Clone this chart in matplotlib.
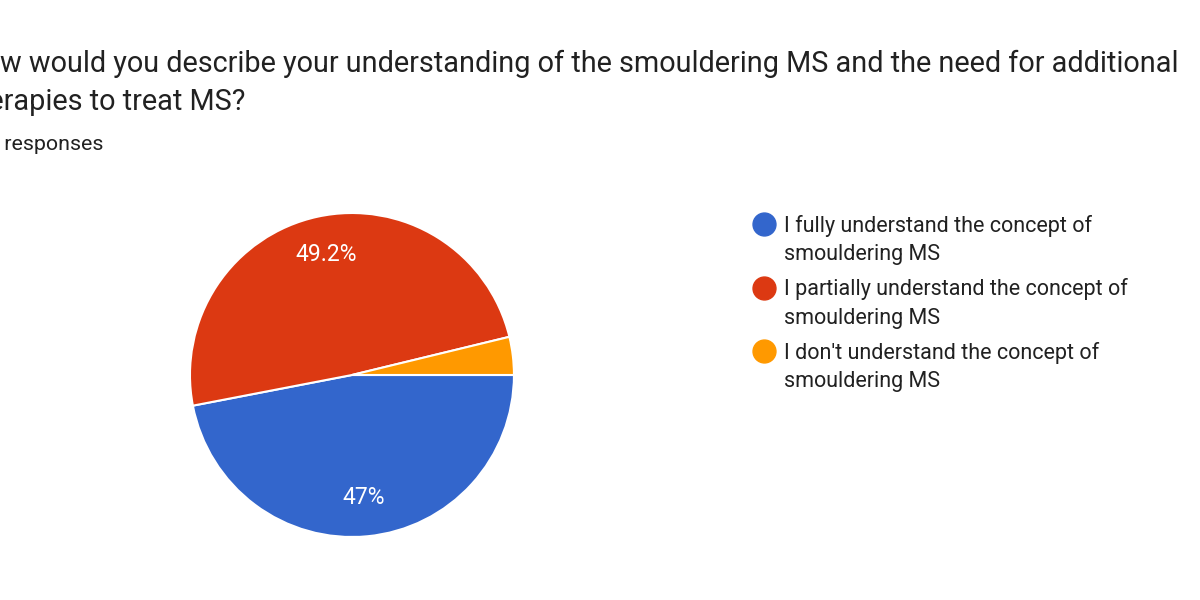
import matplotlib.pyplot as plt
from matplotlib.lines import Line2D

plt.rcParams['font.family'] = ['Roboto', 'DejaVu Sans']

title = "How would you describe your understanding of the smouldering MS and the need for additional\ntherapies to treat MS?"
subtitle = "132 responses"
labels = ["I fully understand the concept of\nsmouldering MS",
          "I partially understand the concept of\nsmouldering MS",
          "I don't understand the concept of\nsmouldering MS"]
counts = [62, 65, 5]
colors = ["#3366cc", "#dc3912", "#ff9900"]


def pct_label(p):
    if p < 5:
        return ""
    s = "%.1f" % p
    if s.endswith(".0"):
        s = s[:-2]
    return s + "%"


W, H = 1200, 600
fig = plt.figure(figsize=(12, 6), dpi=100)
fig.patch.set_facecolor("white")

ax = fig.add_axes([0.1583, 0.105, 0.27, 0.54])
wedges, texts, autotexts = ax.pie(counts, colors=colors, startangle=0, counterclock=False,
                                  autopct=pct_label, pctdistance=0.76,
                                  wedgeprops=dict(edgecolor="white", linewidth=1.5),
                                  textprops=dict(color="white", fontsize=16.5))
ax.set_xlim(-1, 1)
ax.set_ylim(-1, 1)
ax.set_aspect("equal")

# title / count, left part runs off the canvas like in the screenshot
fig.text(-0.031, 1 - 83 / H, title, fontsize=20.8, color="#212121", ha="left", va="center",
         linespacing=1.45)
fig.text(-0.031, 1 - 145 / H, subtitle, fontsize=15.4, color="#212121", ha="left", va="center")

# legend drawn by hand so the dot sits next to the first line
for i, (lab, c) in enumerate(zip(labels, colors)):
    yc = 224 + 63.5 * i
    fig.add_artist(Line2D([764 / W], [1 - yc / H], transform=fig.transFigure, marker="o",
                          markersize=16.5, markerfacecolor=c, markeredgecolor=c, linestyle=""))
    fig.text(784 / W, 1 - (yc - 9) / H, lab, fontsize=15.5, color="#212121",
             ha="left", va="top", linespacing=1.45)

fig.savefig("out.png", dpi=100, facecolor="white")
